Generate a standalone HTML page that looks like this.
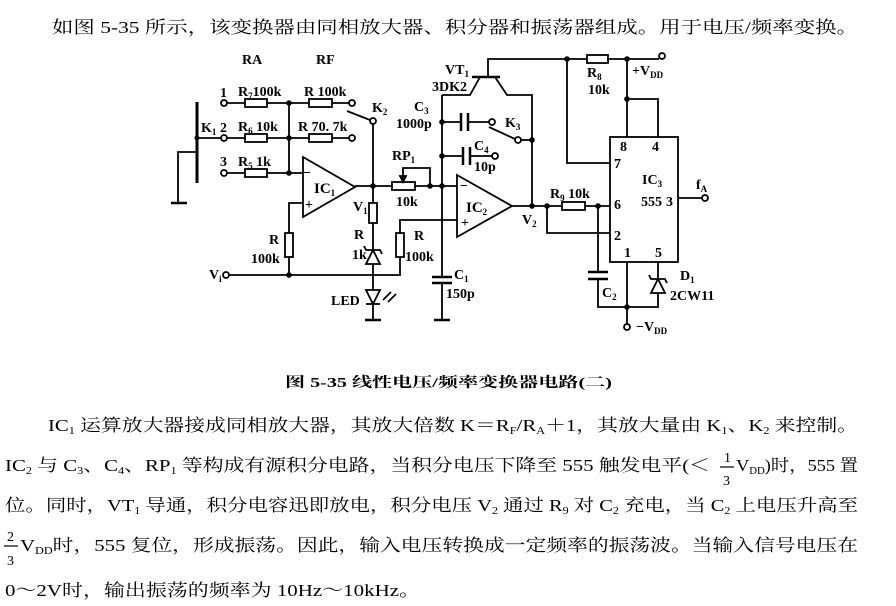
<!DOCTYPE html>
<html><head><meta charset="utf-8"><style>
html,body{margin:0;padding:0;background:#fff;}
svg{display:block}
text{font-family:"Liberation Serif","Noto Serif CJK SC","Noto Sans CJK SC",serif;fill:#000;}
</style></head><body>
<svg width="896" height="606" viewBox="0 0 896 606" xmlns="http://www.w3.org/2000/svg">
<g font-size="17">
<text x="52" y="33" textLength="806" lengthAdjust="spacingAndGlyphs">如图 5-35 所示，该变换器由同相放大器、积分器和振荡器组成。用于电压/频率变换。</text>
</g>
<g stroke="#000" stroke-width="1.8" fill="none">
<line x1="197" y1="102" x2="197" y2="183" stroke-width="3"/>
<line x1="197" y1="138" x2="221" y2="138"/>
<polyline points="197,152 178,152 178,203"/>
<line x1="171" y1="203" x2="187" y2="203" stroke-width="2.5"/>
<circle cx="224" cy="103" r="3"/><circle cx="224" cy="138" r="3"/><circle cx="224" cy="173" r="3"/>
<line x1="227" y1="103" x2="245" y2="103"/><rect x="245" y="99" width="22" height="8"/><line x1="267" y1="103" x2="309" y2="103"/><rect x="309" y="99" width="23" height="8"/><line x1="332" y1="103" x2="349" y2="103"/><circle cx="352" cy="103" r="3"/>
<line x1="227" y1="138" x2="245" y2="138"/><rect x="245" y="134" width="22" height="8"/><line x1="267" y1="138" x2="309" y2="138"/><rect x="309" y="134" width="23" height="8"/><line x1="332" y1="138" x2="349" y2="138"/><circle cx="352" cy="138" r="3"/>
<line x1="227" y1="173" x2="245" y2="173"/><rect x="245" y="169" width="22" height="8"/><line x1="267" y1="173" x2="303" y2="173"/>
<line x1="289" y1="103" x2="289" y2="173"/>
<line x1="347" y1="111" x2="370" y2="120"/><circle cx="373" cy="121" r="3"/>
<line x1="373" y1="124" x2="373" y2="203"/>
<polygon points="303,157 303,217 355,187"/>
<polyline points="303,203 289,203 289,233"/><rect x="285" y="233" width="8" height="24"/><line x1="289" y1="257" x2="289" y2="275"/>
<circle cx="226" cy="275" r="3"/><polyline points="229,275 400,275 400,257"/><rect x="396" y="233" width="8" height="24"/><polyline points="400,233 400,220 457,220"/>
<line x1="355" y1="186" x2="392" y2="186"/><rect x="392" y="182" width="23" height="8"/><line x1="415" y1="186" x2="457" y2="186"/>
<polyline points="403,182 403,168 430,168 430,186"/>
<polygon points="400,176 406,176 403,182" fill="#000"/>
<rect x="369" y="203" width="8" height="20"/><line x1="373" y1="223" x2="373" y2="290"/>
<polygon points="366,264 380,264 373,250" fill="#fff"/><polyline points="364,246 366,250 380,250 382,254"/>
<polygon points="366,290 380,290 373,304" fill="#fff"/><line x1="366" y1="304" x2="380" y2="304"/>
<line x1="373" y1="304" x2="373" y2="320"/><line x1="365" y1="320" x2="381" y2="320" stroke-width="2.5"/>
<line x1="383" y1="300" x2="391" y2="292"/><line x1="388" y1="302" x2="396" y2="294"/>
<line x1="442" y1="95" x2="442" y2="277"/><line x1="432" y1="277" x2="452" y2="277" stroke-width="2.5"/><line x1="432" y1="283" x2="452" y2="283" stroke-width="2.5"/><line x1="442" y1="283" x2="442" y2="320"/><line x1="434" y1="320" x2="450" y2="320" stroke-width="2.5"/>
<polyline points="442,95 470,95 480,77"/><line x1="472" y1="77" x2="500" y2="77" stroke-width="2.5"/>
<polyline points="495,77 507,95 532,95 532,206"/>
<polyline points="488,77 488,59 587,59"/>
<rect x="587" y="55" width="21" height="8"/><line x1="608" y1="59" x2="659" y2="59"/><circle cx="662" cy="56" r="3"/>
<line x1="442" y1="122" x2="461" y2="122"/><line x1="461" y1="113" x2="461" y2="131" stroke-width="2.5"/><line x1="468" y1="113" x2="468" y2="131" stroke-width="2.5"/><line x1="468" y1="122" x2="489" y2="122"/><circle cx="492" cy="122" r="3"/>
<line x1="489" y1="127" x2="515" y2="139"/><circle cx="518" cy="140" r="3"/><line x1="521" y1="140" x2="532" y2="140"/>
<line x1="442" y1="156" x2="463" y2="156"/><line x1="463" y1="147" x2="463" y2="165" stroke-width="2.5"/><line x1="470" y1="147" x2="470" y2="165" stroke-width="2.5"/><line x1="470" y1="156" x2="492" y2="156"/><circle cx="495" cy="156" r="3"/>
<polygon points="457,175 457,237 512,206"/><line x1="512" y1="206" x2="562" y2="206"/>
<rect x="562" y="202" width="23" height="8"/><line x1="585" y1="206" x2="610" y2="206"/>
<polyline points="547,206 547,233 610,233"/>
<rect x="610" y="137" width="68" height="125"/>
<line x1="627" y1="59" x2="627" y2="137"/><polyline points="627,99 658,99 658,137"/>
<polyline points="610,163 567,163 567,59"/>
<line x1="678" y1="198" x2="702" y2="198"/><circle cx="705" cy="198" r="3"/>
<polyline points="598,206 598,272"/><line x1="588" y1="272" x2="608" y2="272" stroke-width="2.5"/><line x1="588" y1="279" x2="608" y2="279" stroke-width="2.5"/>
<polyline points="598,279 598,307 658,307 658,262"/>
<line x1="627" y1="262" x2="627" y2="324"/><circle cx="627" cy="327" r="3"/>
<polygon points="651,293 665,293 658,279" fill="#fff"/><polyline points="649,275 651,279 665,279 667,283"/>
</g>
<g fill="#000">
<circle cx="289" cy="103" r="2.8"/><circle cx="289" cy="138" r="2.8"/><circle cx="289" cy="173" r="2.8"/><circle cx="197" cy="138" r="2.5"/>
<circle cx="373" cy="186" r="2.8"/><circle cx="289" cy="275" r="2.8"/><circle cx="430" cy="186" r="2.8"/><circle cx="442" cy="186" r="2.8"/>
<circle cx="442" cy="122" r="2.8"/><circle cx="442" cy="156" r="2.8"/><circle cx="532" cy="140" r="2.8"/><circle cx="532" cy="206" r="2.8"/>
<circle cx="547" cy="206" r="2.8"/><circle cx="598" cy="206" r="2.8"/><circle cx="567" cy="59" r="2.8"/><circle cx="627" cy="59" r="2.8"/><circle cx="627" cy="99" r="2.8"/><circle cx="627" cy="307" r="2.8"/>
</g>
<g font-size="14" font-weight="bold">
<text x="242" y="64">RA</text><text x="316" y="64">RF</text>
<text x="220" y="97">1</text><text x="238" y="96">R<tspan font-size="9" dy="3">7</tspan><tspan dy="-3">100k</tspan></text><text x="304" y="96">R 100k</text>
<text x="201" y="132">K<tspan font-size="9" dy="3">1</tspan></text><text x="220" y="132">2</text><text x="238" y="131">R<tspan font-size="9" dy="3">6</tspan><tspan dy="-3"> 10k</tspan></text><text x="298" y="131">R  70. 7k</text>
<text x="220" y="166">3</text><text x="238" y="166">R<tspan font-size="9" dy="3">5</tspan><tspan dy="-3"> 1k</tspan></text>
<text x="372" y="112">K<tspan font-size="9" dy="3">2</tspan></text>
<text x="314" y="193" font-size="15">IC<tspan font-size="9" dy="3">1</tspan></text>
<text x="303" y="177">−</text><text x="305" y="209">+</text>
<text x="353" y="211">V<tspan font-size="9" dy="3">1</tspan></text>
<text x="354" y="239">R</text><text x="352" y="259">1k</text>
<text x="269" y="244">R</text><text x="251" y="263">100k</text>
<text x="414" y="240">R</text><text x="405" y="261">100k</text>
<text x="209" y="279">V<tspan font-size="9" dy="3">i</tspan></text>
<text x="331" y="305">LED</text>
<text x="392" y="160">RP<tspan font-size="9" dy="3">1</tspan></text><text x="396" y="206">10k</text>
<text x="445" y="74">VT<tspan font-size="9" dy="3">1</tspan></text><text x="432" y="91">3DK2</text>
<text x="414" y="111">C<tspan font-size="9" dy="3">3</tspan></text><text x="396" y="128">1000p</text>
<text x="505" y="127">K<tspan font-size="9" dy="3">3</tspan></text>
<text x="474" y="150">C<tspan font-size="9" dy="3">4</tspan></text><text x="474" y="171">10p</text>
<text x="460" y="190">−</text><text x="461" y="227">+</text>
<text x="466" y="212" font-size="15">IC<tspan font-size="9" dy="3">2</tspan></text>
<text x="522" y="224">V<tspan font-size="9" dy="3">2</tspan></text>
<text x="550" y="198">R<tspan font-size="9" dy="3">9</tspan><tspan dy="-3"> 10k</tspan></text>
<text x="587" y="77">R<tspan font-size="9" dy="3">8</tspan></text><text x="588" y="94">10k</text>
<text x="632" y="75">+V<tspan font-size="9" dy="3">DD</tspan></text>
<text x="620" y="151">8</text><text x="652" y="151">4</text><text x="614" y="168">7</text><text x="614" y="209">6</text><text x="614" y="240">2</text><text x="666" y="206">3</text><text x="624" y="257">1</text><text x="655" y="257">5</text>
<text x="642" y="184">IC<tspan font-size="9" dy="3">3</tspan></text><text x="641" y="206">555</text>
<text x="696" y="189">f<tspan font-size="9" dy="3">A</tspan></text>
<text x="680" y="280">D<tspan font-size="9" dy="3">1</tspan></text><text x="670" y="300">2CW11</text>
<text x="602" y="297">C<tspan font-size="9" dy="3">2</tspan></text>
<text x="636" y="331">−V<tspan font-size="9" dy="3">DD</tspan></text>
<text x="454" y="279">C<tspan font-size="9" dy="3">1</tspan></text><text x="446" y="298">150p</text>
</g>
<text x="285" y="387" font-size="14" font-weight="bold" textLength="327" lengthAdjust="spacingAndGlyphs">图 5-35   线性电压/频率变换器电路(二)</text>
<g font-size="17">
<text x="48" y="431" textLength="810" lengthAdjust="spacingAndGlyphs">IC<tspan font-size="10" dy="3">1</tspan><tspan dy="-3"> 运算放大器接成同相放大器，其放大倍数 K＝R</tspan><tspan font-size="10" dy="3">F</tspan><tspan dy="-3">/R</tspan><tspan font-size="10" dy="3">A</tspan><tspan dy="-3">＋1，其放大量由 K</tspan><tspan font-size="10" dy="3">1</tspan><tspan dy="-3">、K</tspan><tspan font-size="10" dy="3">2</tspan><tspan dy="-3"> 来控制。</tspan></text>
<text x="5" y="471" textLength="705" lengthAdjust="spacingAndGlyphs">IC<tspan font-size="10" dy="3">2</tspan><tspan dy="-3"> 与 C</tspan><tspan font-size="10" dy="3">3</tspan><tspan dy="-3">、C</tspan><tspan font-size="10" dy="3">4</tspan><tspan dy="-3">、RP</tspan><tspan font-size="10" dy="3">1</tspan><tspan dy="-3"> 等构成有源积分电路，当积分电压下降至 555 触发电平(＜</tspan></text>
<text x="724" y="462" font-size="14">1</text><line x1="720" y1="467" x2="734" y2="467" stroke="#000" stroke-width="1.2"/><text x="723" y="485" font-size="14">3</text>
<text x="736" y="471" textLength="122" lengthAdjust="spacingAndGlyphs">V<tspan font-size="10" dy="3">DD</tspan><tspan dy="-3">)时，555 置</tspan></text>
<text x="5" y="511" textLength="853" lengthAdjust="spacingAndGlyphs">位。同时，VT<tspan font-size="10" dy="3">1</tspan><tspan dy="-3"> 导通，积分电容迅即放电，积分电压 V</tspan><tspan font-size="10" dy="3">2</tspan><tspan dy="-3"> 通过 R</tspan><tspan font-size="10" dy="3">9</tspan><tspan dy="-3"> 对 C</tspan><tspan font-size="10" dy="3">2</tspan><tspan dy="-3"> 充电，当 C</tspan><tspan font-size="10" dy="3">2</tspan><tspan dy="-3"> 上电压升高至</tspan></text>
<text x="7" y="541" font-size="14">2</text><line x1="4" y1="546" x2="18" y2="546" stroke="#000" stroke-width="1.2"/><text x="7" y="565" font-size="14">3</text>
<text x="20" y="551" textLength="838" lengthAdjust="spacingAndGlyphs">V<tspan font-size="10" dy="3">DD</tspan><tspan dy="-3">时，555 复位，形成振荡。因此，输入电压转换成一定频率的振荡波。当输入信号电压在</tspan></text>
<text x="5" y="596" textLength="415" lengthAdjust="spacingAndGlyphs">0～2V时，输出振荡的频率为 10Hz～10kHz。</text>
</g>
</svg>
</body></html>
